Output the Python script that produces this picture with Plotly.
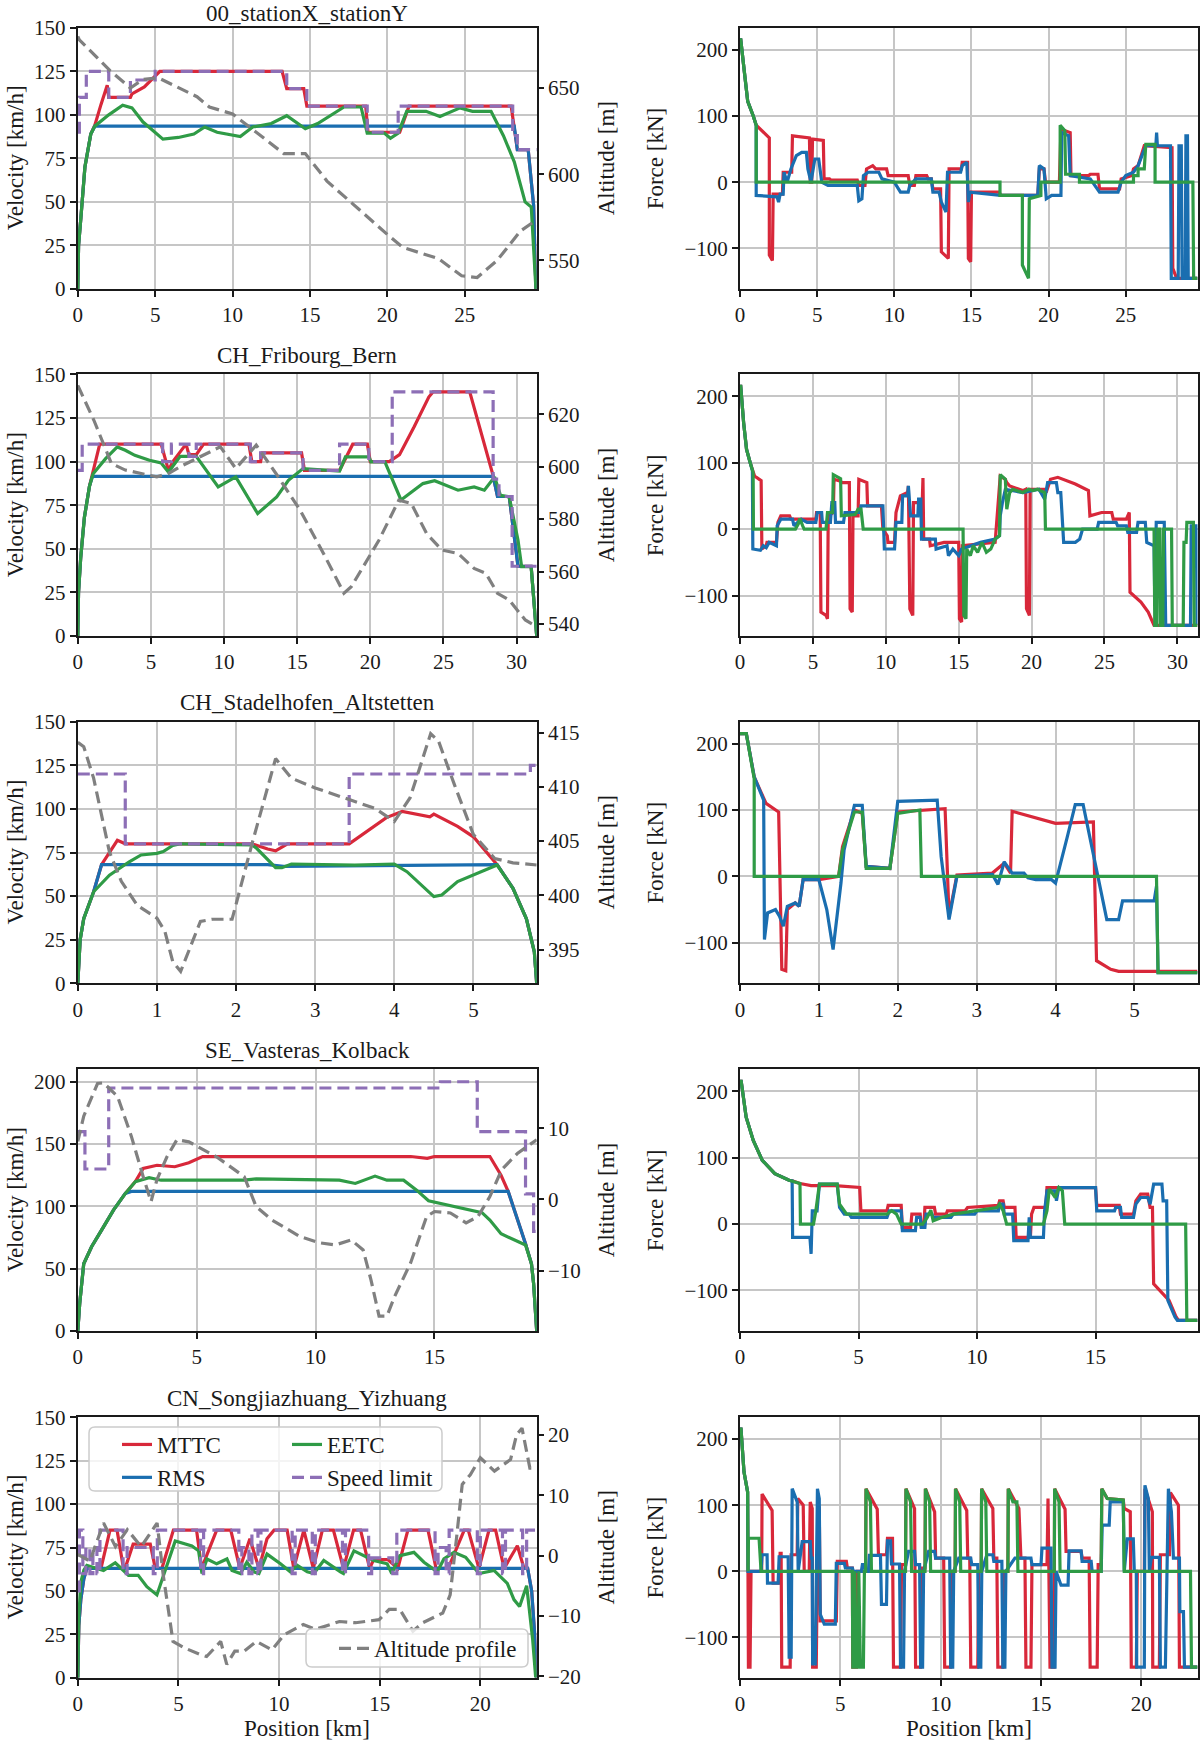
import plotly.graph_objects as go

# ---------------- DATA ----------------
TITLES = ["00_stationX_stationY", "CH_Fribourg_Bern", "CH_Stadelhofen_Altstetten",
          "SE_Vasteras_Kolback", "CN_Songjiazhuang_Yizhuang"]
X_MAX = [29.65, 31.38, 5.8, 19.3, 22.8]
X_DTICK = [5, 5, 1, 5, 5]
V_MAX = [150, 150, 150, 210, 150]
V_DTICK = [25, 25, 25, 50, 25]
ALT_RANGE = [[533.4, 685], [535.4, 635.2], [391.9, 416.0], [-18.5, 18.3], [-20.2, 22.9]]
ALT_TICK0 = [550, 540, 395, -10, -20]
ALT_DTICK = [50, 20, 5, 10, 10]
F_RANGE = [-161, 233]

# ---- Row 1: 00_stationX_stationY ----
R1_V_MTTC = [(0,0),(0.05,25),(0.2,41),(0.46,70),(0.84,89),(1.1,94),(1.5,106),(1.9,117),(2.0,110),(3.4,110),(3.5,112),(4.3,116),(5.3,125),(13.2,125),(13.5,115),(14.6,115),(14.8,105),(18.6,105),(18.75,90),(20.8,90),(21.4,105),(28.0,105),(28.4,80),(29.1,80),(29.45,48),(29.6,0)]
R1_V_RMS = [(0,0),(0.05,25),(0.2,41),(0.46,70),(0.84,89),(1.1,93.5),(28.2,93.5),(28.4,80),(29.1,80),(29.45,48),(29.6,0)]
R1_V_EETC = [(0,0),(0.05,25),(0.2,41),(0.46,70),(0.84,89),(1.1,93.5),(2.0,100),(2.9,105.5),(3.5,104),(4.2,96),(5.5,86),(6.5,87),(7.5,89),(8.2,93),(9.0,90),(10.5,87.5),(11.3,93),(12.5,95),(13.5,99.5),(14.7,92),(15.5,95),(17.2,104.5),(18.3,104.5),(18.7,89.5),(19.8,89.5),(20.2,86.5),(20.7,89.5),(21.25,102),(22.5,102),(23.4,99),(24.7,104),(25.5,102),(26.7,102),(27.5,88),(28.2,73),(28.9,50),(29.3,47),(29.6,0)]
R1_LIMIT = [(0,90),(0.1,110),(0.55,125),(2.0,110),(3.4,120),(5.0,125),(13.5,115),(14.8,105),(18.7,90),(20.7,105),(28.1,88),(28.4,80),(29.65,80)]
R1_ALT = [(0,680),(0.1,678),(2.1,660),(3.4,650),(4.2,655),(5.2,656),(7.7,645),(8.5,639),(10.0,635),(13.3,612),(14.7,612),(16.1,596),(20.0,565),(21.0,557.5),(23.3,551),(24.8,541),(25.8,540),(27.1,550),(28.6,567),(29.4,572),(29.65,570)]
R1_F_MTTC = [(0,215),(0.05,215),(0.28,167),(0.5,122),(0.86,100),(1.05,86),(1.9,67),(1.9,-110),(2.1,-118),(2.15,-18),(2.75,-18),(2.8,15),(3.35,15),(3.4,70),(4.5,67),(4.55,0),(4.65,0),(4.7,65),(5.4,63),(5.45,5),(5.8,5),(5.9,3),(7.6,3),(7.7,-5),(8.1,-5),(8.2,20),(8.6,25),(8.8,20),(9.5,20),(9.6,10),(10.9,10),(11.0,-5),(11.3,-5),(11.4,10),(12.1,10),(12.2,5),(12.4,5),(12.5,-10),(13.0,-10),(13.05,-105),(13.5,-115),(13.55,20),(14.35,20),(14.4,30),(14.75,30),(14.8,-115),(14.95,-120),(15.0,-15),(16.8,-15),(16.9,-20),(19.3,-20),(19.4,20),(19.7,20),(19.8,0),(20.7,0),(20.8,80),(21.4,75),(21.45,10),(22.6,10),(22.7,12),(23.2,12),(23.3,-10),(24.6,-10),(24.7,5),(25.4,10),(25.5,20),(25.8,25),(26.2,55),(28.0,52),(28.05,-130),(28.3,-145),(29.65,-145)]
R1_F_RMS = [(0,215),(0.05,215),(0.28,167),(0.5,122),(0.86,100),(1.05,86),(1.05,-20),(2.4,-22),(2.5,-30),(2.6,-18),(2.8,-18),(2.85,15),(3.05,0),(3.3,20),(3.65,40),(4.0,45),(4.3,45),(4.4,20),(4.6,0),(4.85,35),(5.1,35),(5.3,0),(5.7,-5),(7.6,-5),(7.7,-28),(7.9,-25),(8.0,10),(8.3,15),(9.0,15),(9.2,5),(10.0,0),(10.4,-15),(10.9,-15),(11.0,-5),(11.4,5),(12.4,5),(12.5,-15),(12.9,-15),(13.05,-30),(13.35,-45),(13.45,15),(14.3,15),(14.4,25),(14.7,30),(14.8,-30),(14.9,-15),(16.9,-20),(19.3,-20),(19.4,25),(19.7,20),(19.85,-25),(20.2,-20),(20.8,-20),(20.85,75),(21.3,70),(21.4,10),(22.7,5),(23.3,-15),(24.5,-15),(24.7,0),(25.0,10),(25.5,15),(25.8,25),(26.3,55),(26.95,55),(27.0,75),(27.05,55),(27.9,55),(27.95,-145),(28.4,-145),(28.45,55),(28.6,55),(28.65,-145),(28.85,-145),(28.9,70),(29.0,70),(29.05,-145),(29.65,-145)]
R1_F_EETC = [(0,215),(0.05,215),(0.28,167),(0.5,122),(0.86,100),(1.05,86),(1.05,0),(16.85,0),(16.85,-20),(18.3,-20),(18.3,-125),(18.7,-145),(18.75,-25),(19.5,-20),(19.5,0),(20.75,0),(20.75,86),(21.05,78),(21.1,12),(22.0,12),(22.0,0),(25.5,0),(25.5,10),(25.8,10),(25.8,20),(26.2,20),(26.3,57),(26.9,57),(26.9,0),(29.35,0),(29.4,-145),(29.65,-145)]

# ---- Row 2: CH_Fribourg_Bern ----
R2_V_MTTC = [(0,0),(0.05,25),(0.2,45),(0.45,68),(0.8,86),(1.05,94),(1.5,110),(5.7,110),(6.2,95),(6.5,100),(7.4,110),(7.6,104),(8.1,104),(8.6,110),(11.7,110),(11.9,100),(12.5,100),(12.6,105),(15.3,105),(15.5,95),(17.9,95),(18.8,110),(19.8,110),(20.0,100),(21.3,100),(22.0,104),(23.0,120),(24.0,137),(24.3,140),(26.8,140),(28.4,92),(28.7,80),(29.5,80),(30.1,40),(31.0,40),(31.38,0)]
R2_V_RMS = [(0,0),(0.05,25),(0.2,45),(0.45,68),(0.8,86),(1.0,91.5),(28.4,91.5),(28.7,80),(29.5,80),(30.1,40),(31.0,40),(31.38,0)]
R2_V_EETC = [(0,0),(0.05,25),(0.2,45),(0.45,68),(0.8,86),(1.05,93),(1.9,101.7),(2.7,108.4),(3.25,106.5),(3.9,103.6),(4.9,100.8),(5.7,99.2),(6.2,94),(7.0,103),(8.1,103),(9.6,85.5),(10.8,91.2),(11.9,76),(12.3,70.2),(13.6,79.8),(14.4,89.3),(15.4,96),(17.9,94.5),(18.3,102.7),(19.9,102.7),(20.05,99.8),(21.0,99.8),(22.1,78),(23.6,87.4),(24.4,89),(26.0,83.6),(27.1,85.5),(27.8,83.6),(28.5,91.2),(28.9,80.7),(29.5,79.8),(30.1,55),(30.35,39.7),(31.0,39.7),(31.38,0)]
R2_LIMIT = [(0,95),(0.3,110),(5.8,100),(6.4,110),(7.6,103),(8.1,110),(11.8,100),(12.5,105),(15.4,95),(17.9,110),(19.9,100),(21.5,140),(28.4,90),(28.8,80),(29.7,40),(31.38,40)]
R2_ALT = [(0,631),(1.1,617.7),(2.3,601.2),(3.25,598.7),(5.4,596.1),(6.2,597.4),(7.0,600),(8.1,603.1),(9.75,607.6),(10.8,599.3),(12.2,608.2),(13.55,597.4),(15.2,583.4),(16.8,566.9),(18.2,551.7),(18.7,554.2),(20.6,572),(21.95,587.2),(22.8,586),(23.85,574.5),(24.9,568.2),(26.0,566.9),(27.1,561.2),(27.9,559.3),(28.7,551.7),(29.5,549.1),(30.6,541.5),(31.38,539)]
R2_F_MTTC = [(0,215),(0.05,215),(0.25,160),(0.45,120),(0.7,100),(0.9,85),(1.0,80),(1.45,73),(1.5,-30),(1.8,-25),(1.85,-20),(2.5,-20),(2.6,10),(2.8,20),(3.4,20),(3.5,15),(5.2,15),(5.25,25),(5.5,25),(5.55,-125),(5.9,-130),(6.0,-135),(6.05,20),(6.4,25),(6.45,75),(6.9,72),(7.0,70),(7.5,70),(7.55,-120),(7.7,-125),(7.75,20),(8.1,20),(8.15,75),(8.7,70),(8.75,35),(9.7,35),(9.8,0),(10.1,-10),(10.15,-20),(10.6,-20),(10.7,25),(11.0,50),(11.5,55),(11.55,65),(11.65,-120),(11.85,-130),(11.9,40),(12.5,40),(12.55,77),(12.6,-15),(13.0,-15),(13.05,-25),(14.0,-20),(15.0,-20),(15.05,-135),(15.2,-140),(15.25,-25),(17.5,-20),(17.85,80),(18.2,75),(18.3,70),(18.5,65),(19.4,58),(19.6,60),(19.65,-120),(19.85,-130),(19.9,60),(20.9,60),(21.0,55),(21.3,75),(21.8,78),(23.0,68),(23.9,58),(24.0,20),(24.8,25),(25.5,25),(25.6,15),(26.5,15),(26.7,25),(26.75,-95),(27.5,-110),(28.0,-125),(28.4,-145),(31.38,-145)]
R2_F_RMS = [(0,215),(0.05,215),(0.25,160),(0.45,120),(0.7,100),(0.85,88),(0.88,-30),(1.4,-32),(1.6,-25),(1.8,-28),(2.0,-20),(2.5,-25),(2.55,5),(2.8,15),(3.6,15),(3.7,5),(4.2,15),(4.6,10),(5.2,10),(5.3,25),(5.6,25),(5.65,10),(6.2,10),(6.3,40),(6.5,40),(6.55,10),(7.1,10),(7.2,25),(8.2,25),(8.3,35),(9.8,35),(9.9,-30),(10.6,-30),(10.7,10),(11.1,10),(11.15,50),(11.5,50),(11.55,65),(11.7,20),(12.2,20),(12.25,45),(12.4,45),(12.45,-15),(13.4,-15),(13.45,-30),(14.2,-25),(14.3,-40),(14.6,-30),(15.0,-40),(15.2,-30),(16.5,-20),(17.5,-15),(17.8,-10),(17.85,20),(18.0,40),(18.2,60),(19.4,55),(20.5,60),(20.9,45),(21.1,70),(21.7,70),(21.8,55),(22.0,55),(22.2,-20),(23.0,-20),(23.3,-15),(23.5,0),(24.5,0),(24.6,10),(25.8,10),(25.9,5),(26.5,5),(26.6,-5),(27.2,-5),(27.3,10),(27.8,10),(27.9,-20),(28.4,-25),(28.45,-110),(28.55,10),(29.1,10),(29.2,-145),(30.9,-145),(30.95,5),(31.3,5),(31.35,-145)]
R2_F_EETC = [(0,215),(0.05,215),(0.25,160),(0.45,120),(0.7,100),(0.9,85),(0.92,0),(3.8,0),(4.0,8),(4.1,16),(4.3,5),(4.4,0),(5.9,0),(6.0,25),(6.35,25),(6.4,82),(6.9,76),(6.95,20),(7.9,22),(8.1,30),(8.3,30),(8.45,0),(15.3,0),(15.35,-130),(15.5,-135),(15.55,-30),(15.8,-40),(16.0,-25),(16.3,-35),(16.6,-20),(16.9,-35),(17.2,-30),(17.5,-15),(17.8,-10),(17.85,82),(18.2,75),(18.3,30),(18.5,55),(18.7,60),(19.4,55),(19.8,60),(20.1,58),(20.4,60),(20.9,55),(20.95,0),(28.4,0),(28.45,-145),(28.6,-145),(28.65,0),(28.8,0),(28.85,-145),(29.0,-145),(29.05,0),(29.6,0),(29.65,-145),(30.4,-145),(30.45,-20),(30.6,-20),(30.65,10),(31.1,10),(31.15,-145),(31.38,-145)]

# ---- Row 3: CH_Stadelhofen_Altstetten ----
R3_V_MTTC = [(0,0),(0.03,25),(0.075,37),(0.2,52.5),(0.3,68),(0.5,82),(0.55,81),(0.6,80),(2.2,80),(2.4,77),(2.5,76),(2.6,79),(2.65,80),(3.43,80),(3.9,95),(4.1,98.5),(4.45,95.5),(4.5,97),(4.8,90),(5.0,84),(5.3,68),(5.5,54.5),(5.67,37),(5.77,18),(5.8,0)]
R3_V_RMS = [(0,0),(0.03,25),(0.075,37),(0.2,52.5),(0.3,68),(2.4,68),(2.6,67),(5.3,68),(5.5,54.5),(5.67,37),(5.77,18),(5.8,0)]
R3_V_EETC = [(0,0),(0.03,25),(0.075,37),(0.2,52.5),(0.4,62),(0.65,69.7),(0.8,73.6),(1.0,74.5),(1.08,75.5),(1.2,79),(1.3,80),(2.2,79.3),(2.26,77.4),(2.5,66.3),(2.58,66.3),(2.7,68.4),(3.5,67.8),(4.0,68.4),(4.16,64),(4.5,49.7),(4.6,50.6),(4.8,58.3),(5.3,67.8),(5.5,54.5),(5.67,37),(5.77,18),(5.8,0)]
R3_LIMIT = [(0,120),(0.6,80),(3.43,120),(5.72,125),(5.8,125)]
R3_ALT = [(0,414.1),(0.075,413.7),(0.2,410.8),(0.4,404),(0.55,401.3),(0.75,399.1),(1.0,397.9),(1.1,396.7),(1.2,393.9),(1.3,393),(1.55,397.6),(1.7,397.8),(1.95,397.8),(2.2,404.7),(2.5,412.6),(2.7,410.8),(3.0,409.9),(3.36,409),(3.76,408),(4.0,406.8),(4.2,409),(4.46,414.9),(4.56,414.2),(4.76,410.2),(5.0,405.6),(5.27,403.4),(5.5,403),(5.8,402.8)]
R3_F_MTTC = [(0,215),(0.08,215),(0.18,150),(0.33,110),(0.49,97),(0.53,-140),(0.58,-142),(0.6,-50),(0.7,-40),(0.75,-45),(0.8,-5),(1.0,-5),(1.25,0),(1.3,45),(1.45,100),(1.55,95),(1.6,15),(1.9,12),(2.0,97),(2.6,102),(2.65,-60),(2.75,2),(3.2,5),(3.35,20),(3.43,5),(3.45,98),(4.0,80),(4.48,82),(4.52,-127),(4.7,-140),(4.8,-143),(5.8,-143)]
R3_F_RMS = [(0,215),(0.08,215),(0.18,150),(0.3,115),(0.31,-95),(0.35,-55),(0.45,-50),(0.5,-60),(0.55,-75),(0.6,-45),(0.7,-40),(0.75,-45),(0.8,-5),(1.0,-5),(1.1,-50),(1.18,-110),(1.28,-10),(1.32,40),(1.45,107),(1.55,107),(1.6,15),(1.9,12),(2.0,113),(2.5,115),(2.55,30),(2.65,-65),(2.75,0),(3.2,3),(3.27,-12),(3.35,22),(3.45,5),(3.6,5),(3.65,-2),(3.75,-5),(3.95,-5),(4.0,-10),(4.15,60),(4.25,108),(4.35,108),(4.5,20),(4.6,-40),(4.65,-65),(4.8,-65),(4.85,-37),(5.25,-37),(5.28,-15),(5.3,-145),(5.8,-145)]
R3_F_EETC = [(0,215),(0.08,215),(0.18,147),(0.18,0),(1.25,0),(1.3,40),(1.45,97),(1.55,97),(1.6,12),(1.9,12),(2.0,95),(2.28,100),(2.3,0),(5.28,0),(5.3,-145),(5.8,-145)]

# ---- Row 4: SE_Vasteras_Kolback ----
R4_V_MTTC = [(0,0),(0.08,22),(0.25,54),(0.58,67.6),(1.0,81),(1.5,97),(2.0,110.4),(2.42,120),(2.75,130.5),(3.33,133),(4.08,131.8),(4.67,135),(5.25,140),(14.0,140),(14.7,138.5),(15.0,140),(17.33,140),(17.8,125),(18.1,112),(18.5,90),(18.83,70),(19.08,54),(19.17,38),(19.3,0)]
R4_V_RMS = [(0,0),(0.08,22),(0.25,54),(0.58,67.6),(1.0,81),(1.5,97),(2.0,110.4),(2.25,112),(18.1,112),(18.5,90),(18.83,70),(19.08,54),(19.17,38),(19.3,0)]
R4_V_EETC = [(0,0),(0.08,22),(0.25,54),(0.58,67.6),(1.0,81),(1.5,97),(2.0,110.4),(2.42,119.8),(3.0,123),(3.5,121),(7.0,121),(7.5,122),(11.0,121),(11.67,118.4),(12.5,124.3),(13.0,121),(13.7,121),(14.25,113),(14.75,104.5),(15.8,100),(16.5,97),(17.0,95),(17.33,89),(17.8,78),(18.83,69),(19.08,54),(19.17,38),(19.3,0)]
R4_LIMIT = [(0,160),(0.3,130),(1.3,195),(15.25,200),(16.8,160),(18.83,110),(19.17,80),(19.3,80)]
R4_ALT = [(0,8.15),(0.25,11.7),(0.83,16.3),(1.08,16.4),(1.67,14.5),(2.25,8.9),(2.75,3.2),(3.08,-0.3),(3.33,2.8),(3.75,6),(4.17,8.4),(4.67,8.1),(5.83,6),(7.0,3.2),(7.5,-1.0),(8.17,-2.9),(9.33,-5.2),(10.17,-6.1),(10.83,-6.4),(11.5,-5.7),(12.0,-7.1),(12.33,-11.3),(12.67,-16.4),(13.0,-16.4),(13.33,-13.6),(14.0,-8.9),(14.67,-2.4),(15.0,-1.7),(15.67,-1.9),(16.33,-3.3),(16.83,-2.4),(17.33,0.4),(17.83,4.2),(18.5,6.5),(19.3,8.4)]
R4_F_MTTC = [(0,215),(0.05,215),(0.26,161),(0.56,126),(0.94,96),(1.47,76),(2.07,66),(2.2,65),(2.53,61),(3.0,58),(4.0,58),(5.05,55),(5.1,20),(6.2,20),(6.25,28),(6.8,28),(6.85,-5),(7.2,-5),(7.25,15),(7.6,15),(7.65,-5),(7.75,-5),(7.8,25),(8.2,25),(8.25,15),(8.7,15),(8.75,20),(9.5,20),(9.6,25),(10.9,28),(10.95,35),(11.1,35),(11.15,25),(11.6,25),(11.65,-20),(12.25,-20),(12.3,15),(12.4,25),(12.9,25),(12.95,55),(15.0,55),(15.05,28),(16.0,28),(16.05,15),(16.6,15),(16.7,35),(16.9,45),(17.2,45),(17.3,25),(17.4,25),(17.45,-90),(18.1,-115),(18.4,-140),(18.5,-145),(19.3,-145)]
R4_F_RMS = [(0,215),(0.05,215),(0.26,161),(0.56,126),(0.94,96),(1.47,76),(2.07,66),(2.2,65),(2.22,-20),(2.95,-20),(3.0,-45),(3.05,20),(3.25,20),(3.35,60),(4.1,60),(4.2,25),(4.4,15),(4.6,15),(4.7,10),(6.2,10),(6.3,20),(6.8,20),(6.85,-10),(7.4,-10),(7.45,10),(7.6,10),(7.65,-5),(7.8,-5),(7.85,15),(8.1,15),(8.15,10),(8.9,10),(9.0,15),(9.9,15),(10.0,20),(10.9,20),(10.95,30),(11.1,30),(11.15,15),(11.5,15),(11.55,-25),(12.15,-25),(12.2,10),(12.25,-20),(12.8,-20),(12.85,20),(12.95,50),(13.3,50),(13.35,35),(13.45,55),(15.0,55),(15.05,20),(15.8,20),(15.85,25),(16.05,25),(16.1,10),(16.6,10),(16.7,30),(16.9,40),(17.2,40),(17.3,30),(17.45,60),(17.8,60),(17.85,35),(18.0,35),(18.05,-115),(18.35,-140),(18.45,-145),(19.3,-145)]
R4_F_EETC = [(0,215),(0.05,215),(0.26,161),(0.56,126),(0.94,96),(1.47,76),(2.07,66),(2.53,61),(2.55,0),(3.1,0),(3.2,20),(3.35,60),(4.1,60),(4.2,30),(4.5,15),(6.2,15),(6.4,20),(6.6,15),(6.8,0),(7.7,0),(7.9,10),(8.05,21),(8.15,5),(8.5,10),(9.0,15),(10.0,20),(10.85,25),(10.95,30),(11.1,20),(11.25,0),(12.8,0),(12.95,20),(13.05,53),(13.3,40),(13.45,55),(13.6,50),(13.7,0),(18.8,0),(18.85,-145),(19.3,-145)]

# ---- Row 5: CN_Songjiazhuang_Yizhuang ----
R5_V_MTTC = [(0,0),(0.05,30),(0.15,45),(0.3,57),(0.45,63),(1.15,63),(1.6,85),(1.95,85),(2.27,63),(2.35,63),(2.75,77),(3.6,77),(3.85,63),(4.18,63),(4.75,85),(5.9,85),(6.15,63),(6.4,70),(6.9,85),(7.6,85),(8.05,63),(8.55,80),(9.0,63),(9.4,80),(9.75,85),(10.4,85),(10.73,63),(11.23,85),(11.7,63),(12.15,85),(12.7,85),(13.2,63),(13.7,85),(14.05,85),(14.5,63),(14.7,68),(15.4,68),(15.9,63),(16.4,85),(17.4,85),(17.8,63),(18.4,63),(19.2,85),(19.4,85),(19.93,63),(20.43,85),(20.76,85),(21.18,63),(21.84,76),(22.17,63),(22.35,63),(22.55,50),(22.7,25),(22.8,0)]
R5_V_RMS = [(0,0),(0.05,30),(0.15,45),(0.3,57),(0.45,63),(22.35,63),(22.55,50),(22.7,25),(22.8,0)]
R5_V_EETC = [(0,0),(0.05,35),(0.15,55),(0.3,62),(0.45,64.7),(1.28,61.8),(1.86,66.2),(2.52,59),(3.0,59),(3.43,52.4),(3.93,47.7),(4.84,78.8),(5.67,75.9),(6.0,73.1),(6.17,60),(6.42,68.4),(6.9,65.6),(7.41,68.4),(7.66,61.8),(8.08,60),(8.4,66.5),(8.75,61),(9.0,60),(9.4,71.2),(10.07,65.6),(10.56,61),(10.9,64.7),(11.4,61),(11.73,60),(12.22,67.5),(13.05,61),(13.2,60),(13.72,73.1),(14.7,67.5),(15.37,65.6),(15.6,60),(16.0,70.3),(16.7,72.2),(17.2,66.5),(17.86,61),(18.19,68.4),(18.69,72.2),(19.27,69.4),(19.93,60),(20.68,61.8),(21.34,54.3),(21.67,45),(21.95,41),(22.3,53),(22.6,22),(22.75,0)]
R5_LIMIT = [(0,50),(0.08,85),(0.25,60),(0.4,75),(0.6,60),(0.75,75),(0.95,60),(1.1,85),(2.25,60),(2.45,75),(3.75,60),(3.95,85),(6.1,60),(6.25,85),(8.0,60),(8.15,75),(8.5,60),(8.65,85),(8.95,60),(9.1,85),(10.65,60),(10.8,85),(11.65,60),(11.8,85),(13.15,60),(13.3,85),(14.45,60),(14.6,69),(15.65,60),(15.85,85),(17.75,60),(17.9,75),(18.3,60),(18.45,85),(19.85,60),(20.0,85),(21.1,60),(21.25,85),(22.1,60),(22.3,85),(22.8,85)]
R5_ALT = [(0,0.2),(0.6,-0.9),(1.28,5.4),(1.87,1.5),(2.46,4.3),(3.15,1.5),(3.94,5.4),(4.24,-3.1),(4.73,-14.2),(5.32,-15.3),(6.1,-16.4),(6.4,-16.7),(7.1,-14.2),(7.4,-18),(7.8,-15.8),(8.27,-15.8),(8.87,-14.2),(9.65,-15.6),(10.25,-13.1),(11.2,-11.4),(11.8,-12.2),(13.0,-10.9),(13.8,-11.1),(14.97,-10.6),(15.47,-8.9),(16.0,-8.9),(16.65,-12.5),(17.14,-11.1),(18.13,-9.5),(18.5,-6.5),(18.8,2.4),(19.1,11.8),(19.5,13.4),(20.0,16.2),(20.7,14),(21.5,15.9),(21.8,20),(22.07,21.1),(22.46,14.5),(22.8,14.5)]
R5_F_MTTC = [(0,215),(0.05,215),(0.2,150),(0.38,120),(0.42,-145),(0.5,-145),(0.55,0),(1.08,0),(1.1,117),(1.45,100),(1.6,92),(1.65,-18),(1.95,-18),(2.0,27),(2.05,27),(2.08,-145),(2.5,-145),(2.55,25),(2.85,25),(2.88,110),(3.15,100),(3.2,0),(3.45,0),(3.5,105),(3.6,95),(3.62,-145),(3.8,-145),(3.85,0),(3.95,98),(4.0,-75),(4.8,-75),(4.85,15),(5.3,15),(5.35,5),(5.6,5),(5.62,-145),(5.8,-145),(5.85,0),(6.26,0),(6.28,125),(6.84,94),(6.9,25),(7.3,25),(7.35,50),(7.6,50),(7.65,-145),(8.0,-145),(8.05,10),(8.25,10),(8.27,125),(8.7,95),(8.75,-145),(9.0,-145),(9.05,5),(9.22,5),(9.24,125),(9.7,90),(9.75,20),(10.15,20),(10.2,-145),(10.5,-145),(10.55,0),(10.72,0),(10.74,125),(11.3,92),(11.35,20),(11.45,20),(11.5,-145),(11.85,-145),(11.9,0),(12.02,0),(12.04,125),(12.6,95),(12.65,20),(12.8,20),(12.85,-145),(13.1,-145),(13.15,0),(13.35,0),(13.37,125),(13.9,95),(14.0,20),(14.2,20),(14.25,-145),(14.5,-145),(14.55,10),(15.3,10),(15.35,110),(15.45,-145),(15.65,-145),(15.68,125),(16.2,94),(16.25,30),(17.0,30),(17.05,20),(17.4,20),(17.45,-145),(17.8,-145),(17.85,10),(18.0,10),(18.03,125),(18.3,110),(19.1,108),(19.15,95),(19.45,90),(19.5,-145),(19.75,-145),(19.8,0),(20.15,0),(20.18,125),(20.55,90),(20.57,-145),(20.9,-145),(20.95,25),(21.4,25),(21.45,119),(21.85,100),(21.9,-145),(22.8,-145)]
R5_F_RMS = [(0,215),(0.05,215),(0.2,150),(0.38,120),(0.4,0),(1.05,0),(1.1,25),(1.35,25),(1.37,-18),(1.9,-18),(1.95,22),(2.4,22),(2.45,-130),(2.55,-130),(2.6,125),(2.85,105),(2.9,0),(3.1,45),(3.5,45),(3.55,20),(3.6,20),(3.62,-140),(3.75,-140),(3.86,125),(3.95,110),(4.0,-65),(4.2,-80),(4.75,-80),(4.8,12),(5.2,12),(5.25,5),(5.6,5),(5.65,0),(6.05,0),(6.1,10),(6.2,10),(6.25,0),(6.4,0),(6.45,24),(7.0,24),(7.05,-50),(7.3,-50),(7.35,46),(7.5,46),(7.55,11),(7.95,11),(8.0,-145),(8.15,-145),(8.2,0),(8.4,30),(8.7,30),(8.75,10),(8.95,10),(9.0,-145),(9.1,-145),(9.15,0),(9.4,30),(9.7,30),(9.75,20),(10.45,20),(10.5,-145),(10.6,-145),(10.65,0),(10.9,20),(11.5,20),(11.55,10),(11.85,10),(11.9,-145),(12.0,-145),(12.05,0),(12.3,25),(12.6,25),(12.65,15),(13.05,15),(13.1,-145),(13.2,-145),(13.25,0),(13.7,20),(14.5,20),(14.55,10),(15.0,10),(15.05,35),(15.5,35),(15.55,-145),(15.7,-145),(15.75,0),(16.0,-21),(16.35,-21),(16.4,31),(17.0,31),(17.05,15),(17.5,15),(17.55,0),(18.0,0),(18.05,70),(18.4,70),(18.45,105),(19.1,105),(19.15,0),(19.3,49),(19.6,49),(19.65,0),(19.75,0),(19.77,-145),(20.15,-145),(20.18,130),(20.35,110),(20.4,0),(20.5,21),(20.9,21),(20.95,-145),(21.2,-145),(21.35,125),(21.5,90),(21.6,20),(21.9,20),(21.92,-61),(22.1,-61),(22.15,-145),(22.8,-145)]
R5_F_EETC = [(0,215),(0.05,215),(0.2,150),(0.38,120),(0.4,0),(0.42,50),(0.95,50),(1.0,20),(1.05,0),(5.6,0),(5.62,-145),(5.7,-145),(5.72,0),(5.8,-145),(5.9,-145),(5.92,0),(6.0,-145),(6.15,-145),(6.2,0),(6.26,0),(6.28,125),(6.5,105),(6.55,0),(8.25,0),(8.27,125),(8.5,105),(8.55,0),(9.22,0),(9.24,125),(9.45,105),(9.5,0),(10.72,0),(10.74,125),(10.95,105),(11.0,0),(12.02,0),(12.04,125),(12.25,105),(12.3,0),(13.35,0),(13.37,125),(13.6,105),(13.8,105),(13.85,0),(15.66,0),(15.68,125),(15.9,105),(15.95,0),(18.0,0),(18.03,125),(18.3,110),(19.1,108),(19.15,0),(22.45,0),(22.5,-145),(22.8,-145)]

ROWS = [
    (R1_V_MTTC, R1_V_RMS, R1_V_EETC, R1_LIMIT, R1_ALT, R1_F_MTTC, R1_F_RMS, R1_F_EETC),
    (R2_V_MTTC, R2_V_RMS, R2_V_EETC, R2_LIMIT, R2_ALT, R2_F_MTTC, R2_F_RMS, R2_F_EETC),
    (R3_V_MTTC, R3_V_RMS, R3_V_EETC, R3_LIMIT, R3_ALT, R3_F_MTTC, R3_F_RMS, R3_F_EETC),
    (R4_V_MTTC, R4_V_RMS, R4_V_EETC, R4_LIMIT, R4_ALT, R4_F_MTTC, R4_F_RMS, R4_F_EETC),
    (R5_V_MTTC, R5_V_RMS, R5_V_EETC, R5_LIMIT, R5_ALT, R5_F_MTTC, R5_F_RMS, R5_F_EETC),
]

# ---------------- STYLE / LAYOUT ----------------
W, H = 1200, 1743
FONT = "Liberation Serif"
FS = 21      # tick labels
FS_T = 23    # titles, axis labels, legend
C_MTTC = "#d8283a"
C_RMS = "#1a6eb0"
C_EETC = "#2f9b46"
C_LIM = "#8d6fb6"
C_ALT = "#808080"
INK = "#1a1a1a"
GRID = "#c6c6c6"
LW = 3.2
DASH = "12px,6px"

XL = [77.8 / W, 536.7 / W]
XR = [740.0 / W, 1197.5 / W]
ROW_PX = [(27.8, 288.9), (374.4, 636.0), (721.7, 983.3), (1069.3, 1331.0), (1417.3, 1677.7)]


def py(p):
    return 1 - p / H


def xy(pts):
    return [p[0] for p in pts], [p[1] for p in pts]


def ref(prefix, i):
    return prefix if i == 1 else f"{prefix}{i}"


def axis_style(**kw):
    d = dict(showline=True, linecolor=INK, linewidth=2, mirror=True,
             ticks="outside", ticklen=6, tickwidth=1.5, tickcolor=INK,
             showgrid=True, gridcolor=GRID, gridwidth=1.6, zeroline=False,
             automargin=False,
             tickfont=dict(family=FONT, size=FS, color=INK))
    d.update(kw)
    return d


fig = go.Figure()
layout = {}
annotations = []
tf = dict(family=FONT, size=FS_T, color=INK)

for r, data in enumerate(ROWS):
    v_m, v_r, v_e, lim, alt, f_m, f_r, f_e = data
    xi_l, xi_r = 2 * r + 1, 2 * r + 2
    yi_v, yi_a, yi_f = 3 * r + 1, 3 * r + 2, 3 * r + 3
    top, bot = ROW_PX[r]
    dom = [py(bot), py(top)]
    last = (r == 4)

    xa_l, ya_v, ya_a = ref("x", xi_l), ref("y", yi_v), ref("y", yi_a)
    xa_r, ya_f = ref("x", xi_r), ref("y", yi_f)

    for pts, col, name, leg in [(v_m, C_MTTC, "MTTC", "legend"), (v_r, C_RMS, "RMS", "legend"),
                                (v_e, C_EETC, "EETC", "legend3")]:
        x, y = xy(pts)
        fig.add_trace(go.Scatter(x=x, y=y, mode="lines", line=dict(color=col, width=LW),
                                 name=name, showlegend=last, legend=leg,
                                 xaxis=xa_l, yaxis=ya_v, hoverinfo="skip"))
    x, y = xy(lim)
    fig.add_trace(go.Scatter(x=x, y=y, mode="lines", line=dict(color=C_LIM, width=LW, dash=DASH, shape="hv"),
                             name="Speed limit", showlegend=last, legend="legend3",
                             xaxis=xa_l, yaxis=ya_v, hoverinfo="skip"))
    x, y = xy(alt)
    fig.add_trace(go.Scatter(x=x, y=y, mode="lines", line=dict(color=C_ALT, width=LW, dash=DASH),
                             name="Altitude profile", showlegend=last, legend="legend2",
                             xaxis=xa_l, yaxis=ya_a, hoverinfo="skip"))
    for pts, col in [(f_m, C_MTTC), (f_r, C_RMS), (f_e, C_EETC)]:
        x, y = xy(pts)
        fig.add_trace(go.Scatter(x=x, y=y, mode="lines", line=dict(color=col, width=LW),
                                 showlegend=False, xaxis=xa_r, yaxis=ya_f, hoverinfo="skip"))

    layout[ref("xaxis", xi_l)] = axis_style(domain=XL, anchor=ya_v, range=[0, X_MAX[r]],
                                            tickmode="linear", tick0=0, dtick=X_DTICK[r])
    layout[ref("xaxis", xi_r)] = axis_style(domain=XR, anchor=ya_f, range=[0, X_MAX[r]],
                                            tickmode="linear", tick0=0, dtick=X_DTICK[r])
    layout[ref("yaxis", yi_v)] = axis_style(domain=dom, anchor=xa_l, range=[0, V_MAX[r]],
                                            tickmode="linear", tick0=0, dtick=V_DTICK[r])
    layout[ref("yaxis", yi_a)] = axis_style(overlaying=ya_v, side="right", anchor=xa_l,
                                            range=ALT_RANGE[r], tickmode="linear",
                                            tick0=ALT_TICK0[r], dtick=ALT_DTICK[r],
                                            showgrid=False, showline=False, mirror=False)
    layout[ref("yaxis", yi_f)] = axis_style(domain=dom, anchor=xa_r, range=F_RANGE,
                                            tickmode="linear", tick0=0, dtick=100)

    cy = py((top + bot) / 2)
    ty = max(top - 19, 14)
    annotations.append(dict(text=TITLES[r], x=(XL[0] + XL[1]) / 2, y=py(ty), xref="paper", yref="paper",
                            xanchor="center", yanchor="middle", showarrow=False, font=tf))
    annotations.append(dict(text="Velocity [km/h]", x=15 / W, y=cy, xref="paper", yref="paper",
                            textangle=-90, xanchor="center", yanchor="middle", showarrow=False, font=tf))
    annotations.append(dict(text="Altitude [m]", x=606 / W, y=cy, xref="paper", yref="paper",
                            textangle=-90, xanchor="center", yanchor="middle", showarrow=False, font=tf))
    annotations.append(dict(text="Force [kN]", x=655 / W, y=cy, xref="paper", yref="paper",
                            textangle=-90, xanchor="center", yanchor="middle", showarrow=False, font=tf))
    if last:
        for dmn in (XL, XR):
            annotations.append(dict(text="Position [km]", x=(dmn[0] + dmn[1]) / 2, y=py(1728),
                                    xref="paper", yref="paper", xanchor="center", yanchor="middle",
                                    showarrow=False, font=tf))


def rounded_rect(x0, y0, x1, y1, rad=6):
    def P(xp, yp):
        return f"{xp / W:.5f},{py(yp):.5f}"
    return (f"M{P(x0 + rad, y0)} L{P(x1 - rad, y0)} Q{P(x1, y0)} {P(x1, y0 + rad)} "
            f"L{P(x1, y1 - rad)} Q{P(x1, y1)} {P(x1 - rad, y1)} L{P(x0 + rad, y1)} "
            f"Q{P(x0, y1)} {P(x0, y1 - rad)} L{P(x0, y0 + rad)} Q{P(x0, y0)} {P(x0 + rad, y0)} Z")


shapes = [
    dict(type="path", path=rounded_rect(89, 1427, 442, 1491), xref="paper", yref="paper",
         fillcolor="rgba(255,255,255,0.8)", line=dict(color="#cccccc", width=1.5), layer="above"),
    dict(type="path", path=rounded_rect(306, 1629, 528, 1667), xref="paper", yref="paper",
         fillcolor="rgba(255,255,255,0.8)", line=dict(color="#cccccc", width=1.5), layer="above"),
]

leg_common = dict(bgcolor="rgba(0,0,0,0)", borderwidth=0, xanchor="left", yanchor="top",
                  font=dict(family=FONT, size=FS_T, color=INK), tracegroupgap=0, orientation="v")

fig.update_layout(
    template="none",
    width=W, height=H,
    margin=dict(l=0, r=0, t=0, b=0, pad=0, autoexpand=False),
    paper_bgcolor="white", plot_bgcolor="white",
    font=dict(family=FONT, size=FS, color=INK),
    annotations=annotations,
    shapes=shapes,
    legend=dict(x=117 / W, y=py(1423), **leg_common),
    legend3=dict(x=287 / W, y=py(1423), **leg_common),
    legend2=dict(x=334 / W, y=py(1627), **leg_common),
    **layout,
)

fig.write_html("out.html", config={"displayModeBar": False},
               post_script="document.body.style.margin='0px';document.body.style.overflow='hidden';")
